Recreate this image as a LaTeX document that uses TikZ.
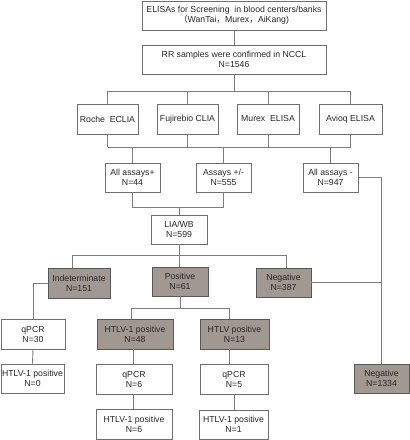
\documentclass[tikz,border=0pt]{standalone}
\usepackage{fontspec}
\setmainfont{Liberation Sans}
\newfontfamily\cjk{Noto Sans CJK SC}
\definecolor{boxgray}{RGB}{160,152,145}
\definecolor{linegray}{RGB}{125,125,125}
\definecolor{edgegray}{RGB}{110,110,110}
\definecolor{txt}{RGB}{40,40,40}
\begin{document}
\begin{tikzpicture}[x=1pt,y=-1pt,
  bx/.style={draw=edgegray,line width=0.9pt,fill=white,inner sep=0pt,align=center,
    font=\fontsize{8.7}{10}\selectfont,text=txt},
  gbx/.style={bx,fill=boxgray,draw=edgegray!80!black},
  ln/.style={draw=linegray,line width=0.9pt}]
\useasboundingbox (0,0) rectangle (410,440);
\newcommand{\bxat}[7]{\node[#1,minimum width=#5-#3,minimum height=#6-#4] (#2) at ({(#3+#5)/2},{(#4+#6)/2}) {#7};}
\bxat{bx}{top}{142}{1}{326}{30}{ELISAs for Screening\ \ in blood centers/banks\\{\cjk （}WanTai{\cjk ，}Murex{\cjk ，}AiKang)}
\bxat{bx}{rr}{142}{45}{326}{74}{RR samples were confirmed in NCCL\\N=1546}
\bxat{bx}{roche}{77}{104}{138}{134}{Roche\ \ ECLIA}
\bxat{bx}{fuji}{157}{104}{218}{134}{Fujirebio CLIA}
\bxat{bx}{murex}{237}{104}{299}{134}{Murex\ \ ELISA}
\bxat{bx}{avioq}{319}{104}{382}{134}{Avioq ELISA}
\bxat{bx}{allp}{105}{163}{160}{192}{All assays+\\N=44}
\bxat{bx}{pm}{196}{163}{251}{192}{Assays +/-\\N=555}
\bxat{bx}{alln}{303}{163}{358}{192}{All assays -\\N=947}
\bxat{bx}{lia}{151}{215}{207}{244}{LIA/WB\\N=599}
\bxat{gbx}{ind}{48}{268}{110}{298}{Indeterminate\\N=151}
\bxat{gbx}{pos}{152}{267}{208}{296}{Positive\\N=61}
\bxat{gbx}{neg}{256}{268}{311}{297}{Negative\\N=387}
\bxat{bx}{q30}{1}{319}{65}{349}{qPCR\\N=30}
\bxat{gbx}{h48}{97}{319}{173}{349}{HTLV-1 positive\\N=48}
\bxat{gbx}{h13}{200}{319}{269}{349}{HTLV positive\\N=13}
\bxat{bx}{h0}{1}{364}{64}{393}{HTLV-1 positive\\N=0}
\bxat{bx}{q6}{96}{364}{172}{394}{qPCR\\N=6}
\bxat{bx}{q5}{200}{364}{268}{394}{qPCR\\N=5}
\bxat{bx}{h6}{96}{409}{172}{439}{HTLV-1 positive\\N=6}
\bxat{bx}{h1}{199}{410}{268}{439.5}{HTLV-1 positive\\N=1}
\bxat{gbx}{n1334}{354}{364}{409}{393}{Negative\\N=1334}
% coordinates of junctions
\coordinate (b1) at (234,91);
\coordinate (b2) at (224,147);
\coordinate (b3) at (179,207);
\coordinate (b4L) at (72,255);
\coordinate (b4R) at (286,255);
\coordinate (b5L) at (131,308);
\coordinate (b5R) at (229,308);
\coordinate (bq6) at (133,349);
\coordinate (bh1) at (234,394);
\begin{scope}[ln]
\draw (top.south -| b1) -- (rr.north -| b1);
\draw (rr.south -| b1) -- (b1);
\draw (b1 -| roche.north) -- (b1 -| avioq.north);
\foreach \n in {roche,fuji,murex,avioq} {
  \draw (b1 -| \n.north) -- (\n.north);
  \draw (\n.south) -- (b2 -| \n.south);
}
\draw (b2 -| roche.south) -- (b2 -| avioq.south);
\foreach \n in {allp,pm,alln} \draw (b2 -| \n.north) -- (\n.north);
\draw (allp.south) -- (b3 -| allp.south) -- (b3 -| pm.south) -- (pm.south);
\draw (b3) -- (b3 |- lia.north);
\draw (lia.south -| b3) -- (b3 |- b4L);
\draw (b4L) -- (b4R);
\draw (b4L) -- (b4L |- ind.north);
\draw (b3 |- b4L) -- (b3 |- pos.north);
\draw (b4R) -- (b4R |- neg.north);
\draw (ind.west) -| (q30.north);
\draw (q30.south) -- (h0.north);
\draw (pos.south) -- (pos.south |- b5L);
\draw (b5L) -- (b5R);
\draw (b5L) -- (b5L |- h48.north);
\draw (b5R) -- (b5R |- h13.north);
\draw (bq6) -- (bq6 |- q6.north);
\draw (q6.south -| bq6) -- (bq6 |- h6.north);
\draw (h13.south -| b5R) -- (b5R |- q5.north);
\draw (bh1) -- (bh1 |- h1.north);
\draw (alln.east) -| (n1334.north);
\draw (neg.east) -- (neg.east -| n1334.north);
\end{scope}
\end{tikzpicture}
\end{document}
